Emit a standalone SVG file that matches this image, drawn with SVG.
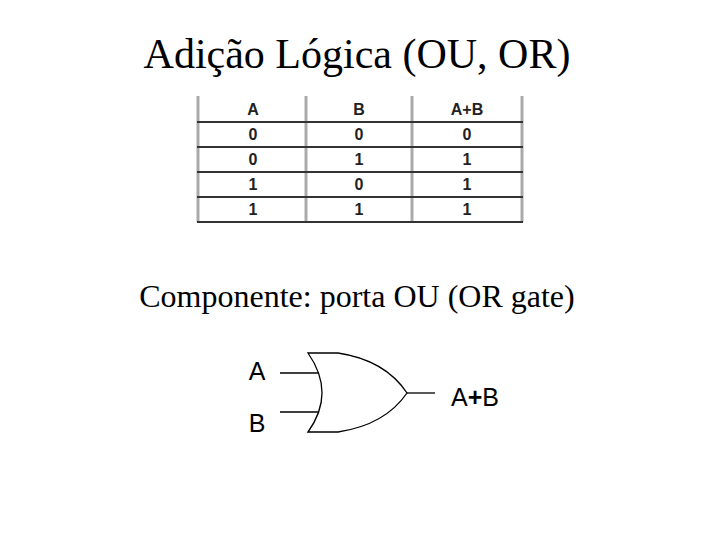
<svg xmlns="http://www.w3.org/2000/svg" width="720" height="540" viewBox="0 0 720 540">
<style>
.t{font-family:"Liberation Serif",serif;font-size:42px;fill:#000;text-anchor:middle}
.c{font-family:"Liberation Sans",Arial,sans-serif;font-size:16px;font-weight:bold;fill:#222;text-anchor:middle}
.g{font-family:"Liberation Sans",Arial,sans-serif;font-size:25px;fill:#000;text-anchor:middle}
.h{stroke:#333;stroke-width:2}
.v{stroke:#aaa;stroke-width:3}
.w{stroke:#000;stroke-width:1.3;fill:none}
</style>
<rect width="720" height="540" fill="#fff"/>
<text class="t" x="357" y="68">Adição Lógica (OU, OR)</text>
<g id="table">
<line class="v" x1="198" y1="96" x2="198" y2="222"/>
<line class="v" x1="306" y1="96" x2="306" y2="222"/>
<line class="v" x1="412" y1="96" x2="412" y2="222"/>
<line class="v" x1="522" y1="96" x2="522" y2="222"/>
<line class="h" x1="197" y1="122" x2="523" y2="122"/>
<line class="h" x1="197" y1="147" x2="523" y2="147"/>
<line class="h" x1="197" y1="172" x2="523" y2="172"/>
<line class="h" x1="197" y1="197" x2="523" y2="197"/>
<line class="h" x1="197" y1="222" x2="523" y2="222"/>
<text class="c" x="253" y="115">A</text><text class="c" x="359" y="115">B</text><text class="c" x="467" y="115">A+B</text>
<text class="c" x="253" y="140">0</text><text class="c" x="359" y="140">0</text><text class="c" x="467" y="140">0</text>
<text class="c" x="253" y="165">0</text><text class="c" x="359" y="165">1</text><text class="c" x="467" y="165">1</text>
<text class="c" x="253" y="190">1</text><text class="c" x="359" y="190">0</text><text class="c" x="467" y="190">1</text>
<text class="c" x="253" y="215">1</text><text class="c" x="359" y="215">1</text><text class="c" x="467" y="215">1</text>
</g>
<text class="t" x="357" y="307" style="font-size:32px">Componente: porta OU (OR gate)</text>
<g id="gate">
<path class="w" d="M308,353 Q336,393 308,432 L338,432 Q385,425 407,393 Q385,360 338,353 Z"/>
</g>
<g id="connectors">
<line class="w" x1="280" y1="373" x2="319" y2="373"/>
<line class="w" x1="280" y1="412" x2="319" y2="412"/>
<line class="w" x1="407" y1="393" x2="435" y2="393"/>
</g>
<text class="g" x="257" y="380">A</text>
<text class="g" x="257" y="432">B</text>
<text class="g" x="475" y="406">A<tspan font-weight="bold">+</tspan>B</text>
</svg>
